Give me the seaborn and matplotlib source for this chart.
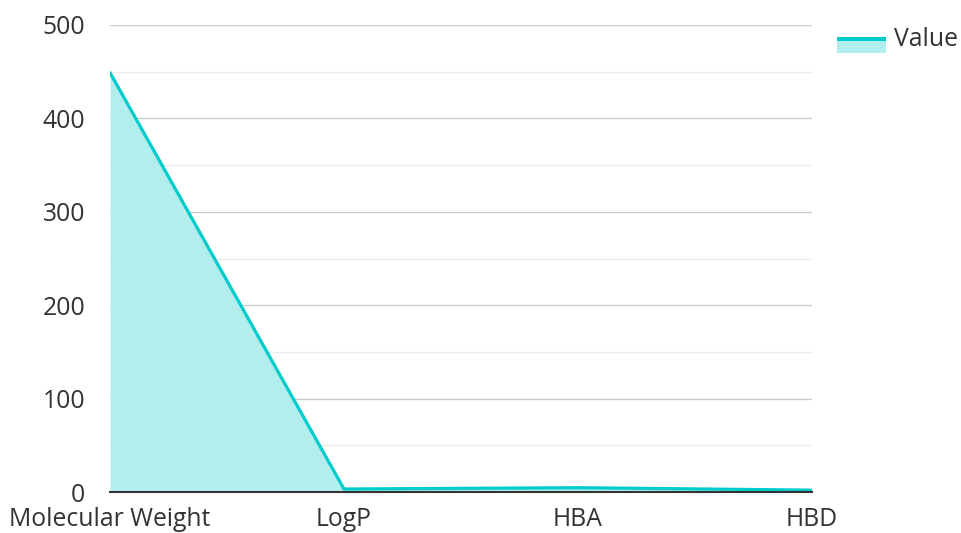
import matplotlib
matplotlib.use("Agg")
import matplotlib.pyplot as plt
import seaborn as sns
import pandas as pd
from matplotlib.patches import Rectangle
from matplotlib.lines import Line2D

categories = ["Molecular Weight", "LogP", "HBA", "HBD"]
values = [449, 3.2, 4.6, 2]
series_name = "Value"

df = pd.DataFrame({"category": categories, "value": values})
df["pos"] = range(len(categories))

sns.set_theme(style="white")
plt.rcParams["font.family"] = ["Open Sans", "DejaVu Sans"]

LINE = "#00cccc"
FILL = "#b2eeee"
TEXT = "#333333"
FS = 17.8


class AreaHandle:
    """Legend key: filled band with the series line along its top edge."""

    def legend_artist(self, legend, orig_handle, fontsize, handlebox):
        x0, y0 = handlebox.xdescent, handlebox.ydescent
        w, h = handlebox.width, handlebox.height
        tr = handlebox.get_transform()
        band = Rectangle((x0, y0 - 0.37 * h), w, h, facecolor=FILL,
                         edgecolor="none", transform=tr)
        top = Line2D([x0, x0 + w], [y0 + 0.5 * h, y0 + 0.5 * h], color=LINE,
                     linewidth=2.9, solid_capstyle="butt", transform=tr)
        handlebox.add_artist(band)
        handlebox.add_artist(top)
        return band


fig = plt.figure(figsize=(9.61, 5.33), dpi=100)
ax = fig.add_axes([110 / 961, 1 - 492 / 533, (812 - 110) / 961, (492 - 25) / 533])

ax.fill_between(df["pos"], df["value"], 0, color=FILL, linewidth=0, zorder=2)
sns.lineplot(data=df, x="pos", y="value", ax=ax, color=LINE, linewidth=2.3,
             zorder=3, legend=False)

ax.set_xlim(0, len(categories) - 1)
ax.set_ylim(0, 500)
ax.set_xticks(df["pos"])
ax.set_xticklabels(categories)
ax.set_yticks([0, 100, 200, 300, 400, 500])
ax.set_yticks([50, 150, 250, 350, 450], minor=True)
ax.set_xlabel("")
ax.set_ylabel("")

ax.grid(axis="y", which="major", color="#cccccc", linewidth=1, zorder=1)
ax.grid(axis="y", which="minor", color="#ececec", linewidth=1, zorder=1)
ax.grid(axis="x", visible=False)

for s in ["top", "right", "left"]:
    ax.spines[s].set_visible(False)
ax.spines["bottom"].set_color("#333333")
ax.spines["bottom"].set_linewidth(1.5)
ax.spines["bottom"].set_zorder(4)

ax.tick_params(axis="y", which="major", length=0, labelsize=FS,
               labelcolor=TEXT, pad=18)
ax.tick_params(axis="y", which="minor", length=0)
ax.tick_params(axis="x", length=0, labelsize=FS, labelcolor=TEXT, pad=11)

proxy = Rectangle((0, 0), 1, 1)
leg = fig.legend([proxy], [series_name], loc="upper left",
                 bbox_to_anchor=(837 / 961, 1 - 27 / 533), frameon=False,
                 borderpad=0, borderaxespad=0,
                 fontsize=FS, labelcolor=TEXT, handlelength=2.0,
                 handleheight=0.6, handletextpad=0.3,
                 handler_map={Rectangle: AreaHandle()})

fig.savefig("out.png", dpi=100)
